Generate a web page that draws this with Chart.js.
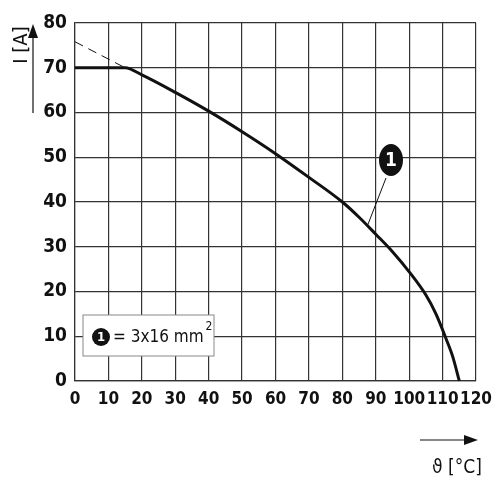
<!DOCTYPE html><html><head><meta charset="utf-8">
<script src="https://cdn.jsdelivr.net/npm/chart.js@4"></script>
<style>html,body{margin:0;background:#fff}#w{width:500px;height:500px}</style></head><body><div id="w"><canvas id="c"></canvas></div>
<script>
const xTicks=[0,10,20,30,40,50,60,70,80,90,100,110,120];
const yTicks=[0,10,20,30,40,50,60,70,80];
const curveX=[0,15,20,30,40,50,60,70,80,85,90,95,100,105,108,111,113,115];
const curveY=[70,70,68.4,64.5,60.3,55.7,50.8,45.5,40,36.6,32.8,28.9,24.4,19.2,15,9.5,5.5,0];
const dashX=[0,15];
const dashY=[75.8,70];
const legendText="= 3x16 mm";
const F='"DejaVu Sans Condensed","Liberation Sans Narrow",sans-serif';
const deco={id:'deco',afterDraw(ch){const c=ch.ctx,xs=ch.scales.x,ys=ch.scales.y;c.save();
c.fillStyle='#111';c.strokeStyle='#111';c.lineWidth=1.2;
c.save();c.translate(22,45);c.rotate(-Math.PI/2);c.font='20px '+F;c.textAlign='center';c.textBaseline='middle';c.fillText('I [A]',0,0);c.restore();
c.beginPath();c.moveTo(33,113);c.lineTo(33,35);c.stroke();
c.beginPath();c.moveTo(33,24);c.lineTo(28,38);c.lineTo(38,38);c.closePath();c.fill();
c.beginPath();c.moveTo(420,440);c.lineTo(466,440);c.stroke();
c.beginPath();c.moveTo(478,440);c.lineTo(464,435);c.lineTo(464,445);c.closePath();c.fill();
c.font='19px '+F;c.textAlign='left';c.textBaseline='middle';c.fillText('ϑ [°C]',432,468);
c.fillStyle='#fff';c.fillRect(83,315,131,41);c.strokeStyle='#888';c.lineWidth=1;c.strokeRect(83,315,131,41);
c.fillStyle='#111';c.beginPath();c.arc(101,337,9,0,Math.PI*2);c.fill();
c.fillStyle='#fff';c.font='bold 13px '+F;c.textAlign='center';c.fillText('1',101,338);
c.fillStyle='#111';c.font='17px '+F;c.textAlign='left';c.fillText(legendText,113,338);
const w=c.measureText(legendText).width;c.font='12px '+F;c.fillText('2',113+w+2,327);
const px=xs.getPixelForValue(87.5),py=ys.getPixelForValue(34.7);
c.strokeStyle='#111';c.lineWidth=1;c.beginPath();c.moveTo(px,py);c.lineTo(386,178);c.stroke();
c.fillStyle='#111';c.beginPath();c.ellipse(391,160,12,16,0,0,Math.PI*2);c.fill();
c.fillStyle='#fff';c.font='bold 19px '+F;c.textAlign='center';c.fillText('1',391,161);
c.restore();}};
new Chart(document.getElementById('c'),{type:'scatter',
data:{datasets:[
{data:curveX.map((x,i)=>({x,y:curveY[i]})),showLine:true,borderColor:'#111',borderWidth:3,pointRadius:0,cubicInterpolationMode:'monotone'},
{data:dashX.map((x,i)=>({x,y:dashY[i]})),showLine:true,borderColor:'#111',borderWidth:1,borderDash:[9,6],pointRadius:0}]},
options:{animation:false,responsive:true,maintainAspectRatio:false,
layout:{padding:{top:23,right:19,left:0,bottom:0}},
plugins:{legend:{display:false},tooltip:{enabled:false}},
scales:{
x:{type:'linear',min:0,max:120,afterBuildTicks:s=>{s.ticks=xTicks.map(v=>({value:v}))},afterFit:s=>{s.height=119},
grid:{color:'#333',lineWidth:1.2,drawTicks:false},border:{color:'#333',width:1.2},
ticks:{padding:8,maxRotation:0,autoSkip:false,color:'#111',font:{family:F,size:17,weight:'bold'}}},
y:{min:0,max:80,afterBuildTicks:s=>{s.ticks=yTicks.map(v=>({value:v}))},afterFit:s=>{s.width=75},
grid:{color:'#333',lineWidth:1.2,drawTicks:false},border:{color:'#333',width:1.2},
ticks:{padding:8,color:'#111',font:{family:F,size:19,weight:'bold'}}}}},
plugins:[deco]});
</script></body></html>
